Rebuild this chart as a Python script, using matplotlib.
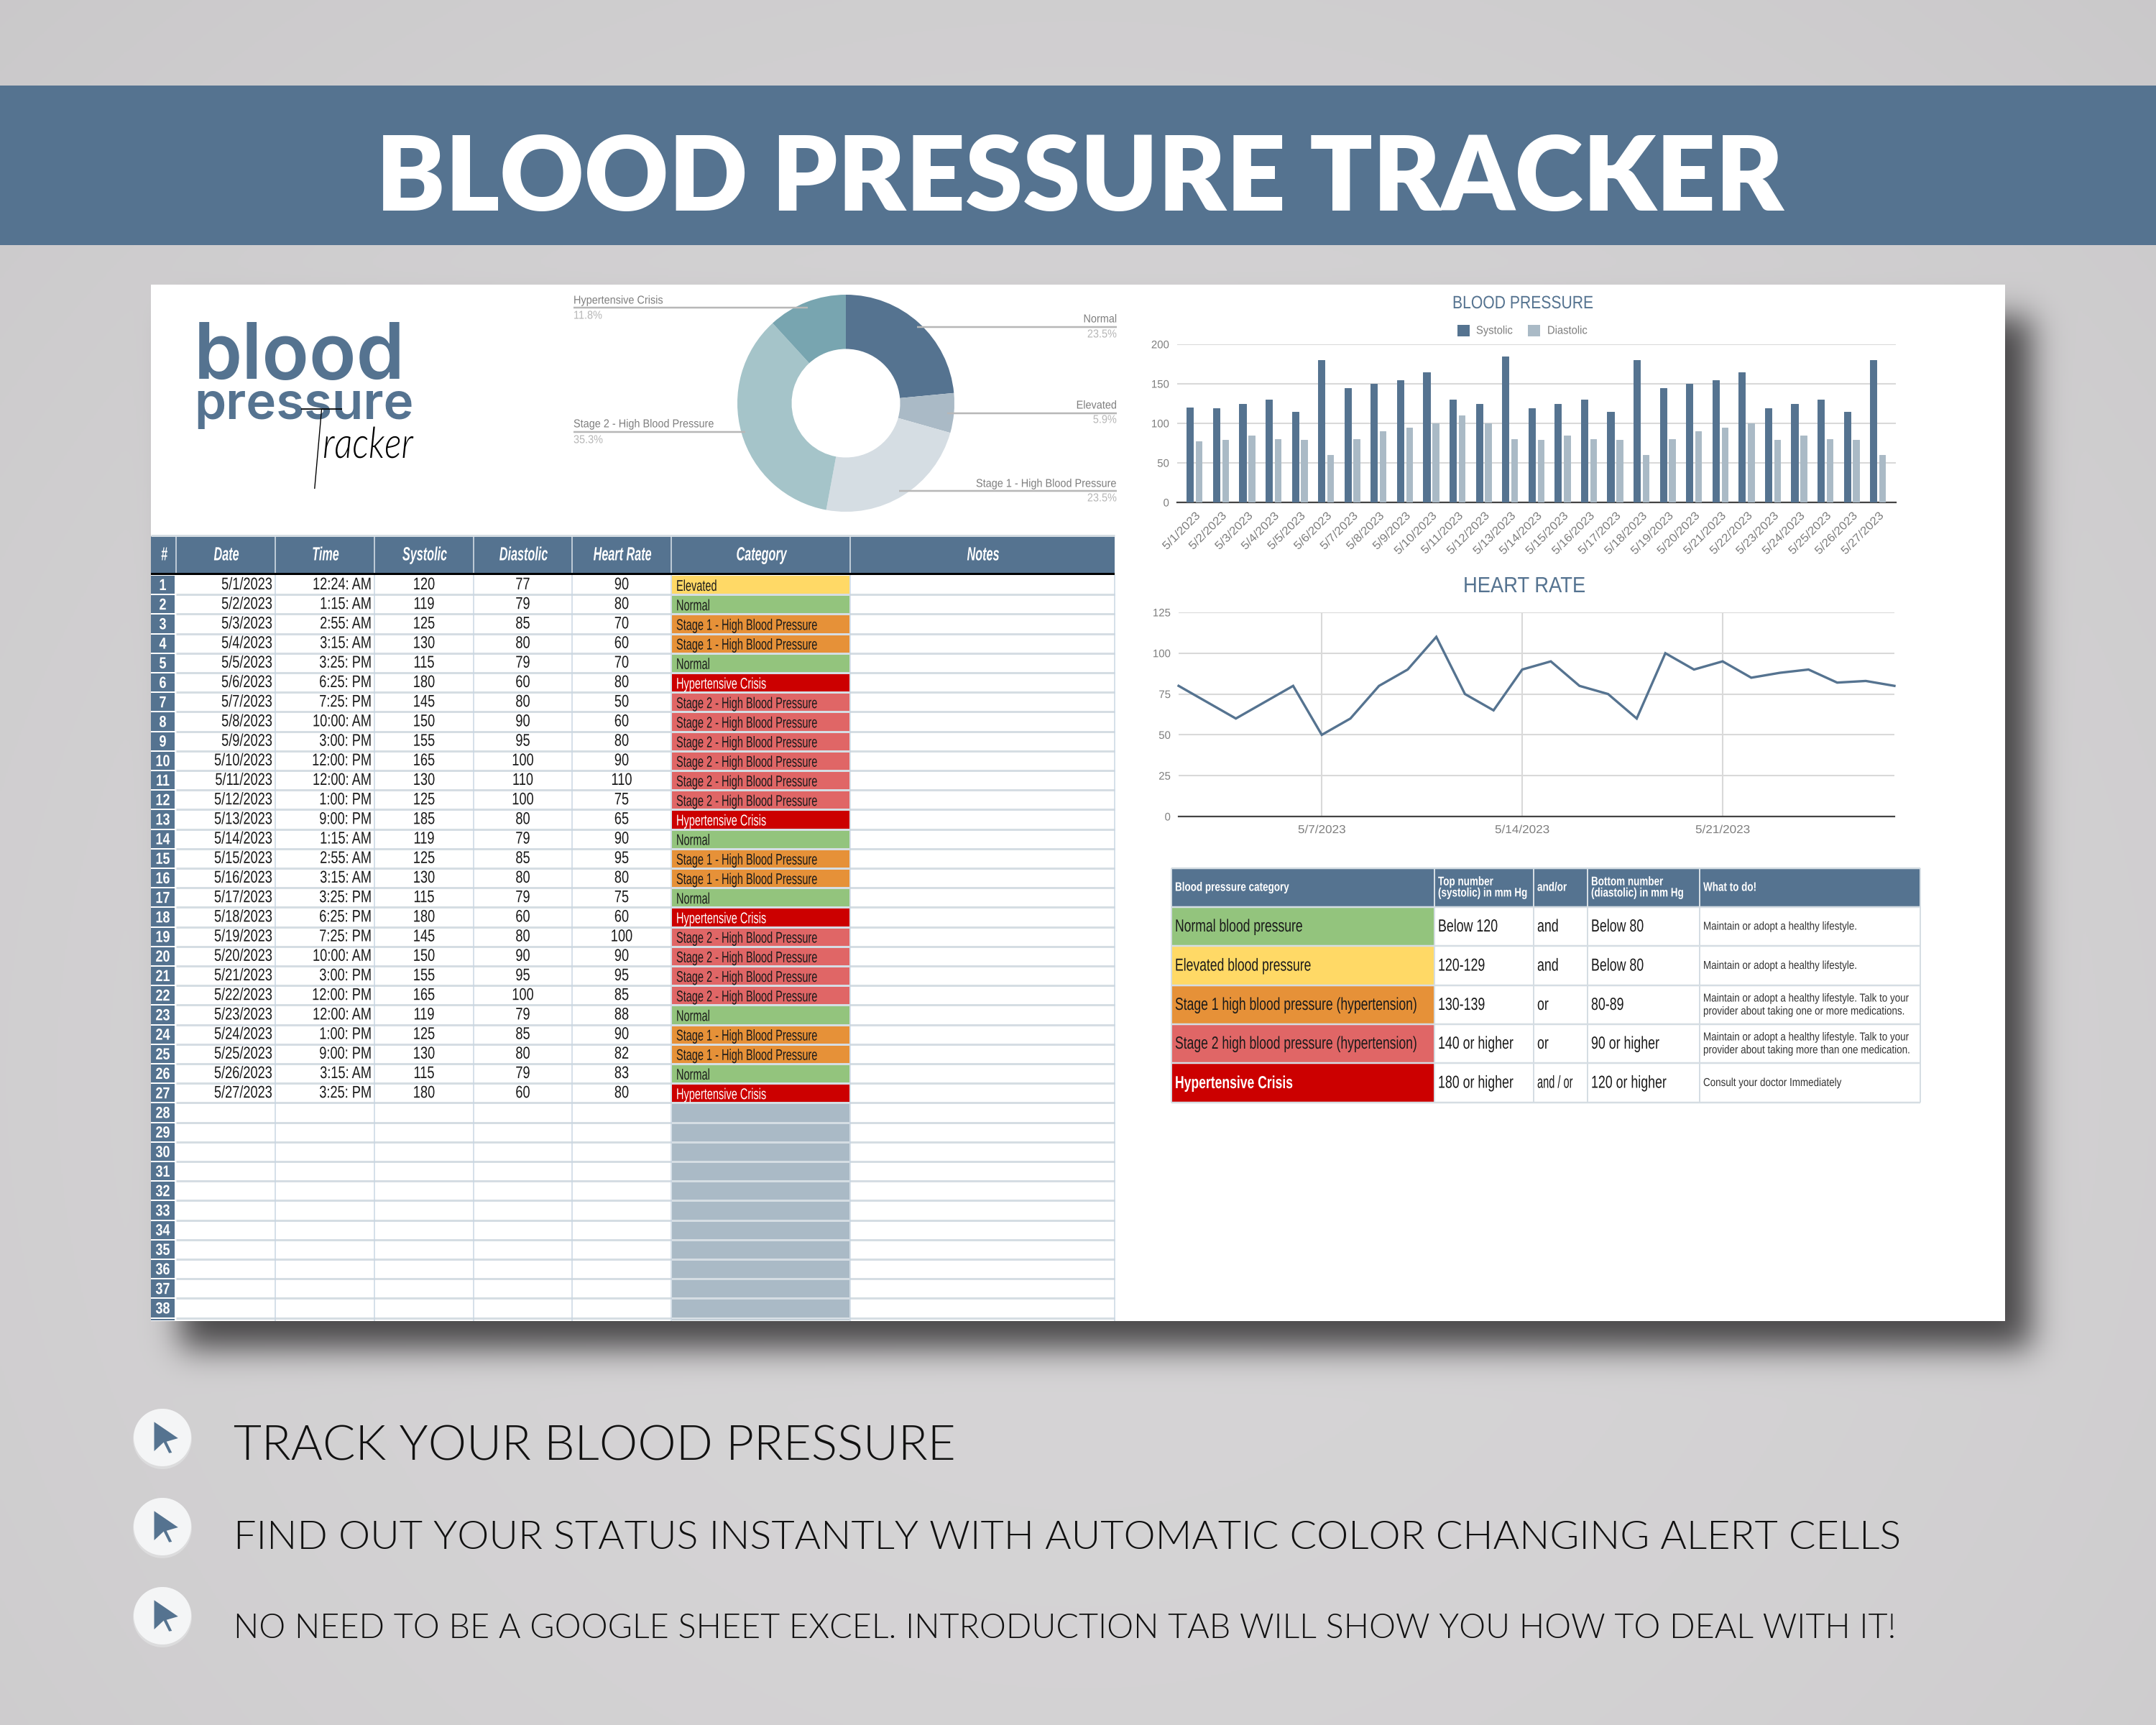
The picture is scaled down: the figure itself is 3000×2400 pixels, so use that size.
import numpy as np
from math import erf
import matplotlib
matplotlib.use("Agg")
import matplotlib.pyplot as plt
from matplotlib.patches import Rectangle, Ellipse, Polygon
from matplotlib.patheffects import AbstractPathEffect
from matplotlib.transforms import Affine2D, Bbox

W, H = 3000, 2400
SANS = 'Liberation Sans'
BLUE = '#557390'

# ------------------------------------------------------------------ data
row_dates = ['5/1/2023','5/2/2023','5/3/2023','5/4/2023','5/5/2023','5/6/2023','5/7/2023','5/8/2023','5/9/2023',
             '5/10/2023','5/11/2023','5/12/2023','5/13/2023','5/14/2023','5/15/2023','5/16/2023','5/17/2023',
             '5/18/2023','5/19/2023','5/20/2023','5/21/2023','5/22/2023','5/23/2023','5/24/2023','5/25/2023',
             '5/26/2023','5/27/2023']
row_times = ['12:24: AM','1:15: AM','2:55: AM','3:15: AM','3:25: PM','6:25: PM','7:25: PM','10:00: AM','3:00: PM',
             '12:00: PM','12:00: AM','1:00: PM','9:00: PM','1:15: AM','2:55: AM','3:15: AM','3:25: PM','6:25: PM',
             '7:25: PM','10:00: AM','3:00: PM','12:00: PM','12:00: AM','1:00: PM','9:00: PM','3:15: AM','3:25: PM']
systolic = [120,119,125,130,115,180,145,150,155,165,130,125,185,119,125,130,115,180,145,150,155,165,119,125,130,115,180]
diastolic = [77,79,85,80,79,60,80,90,95,100,110,100,80,79,85,80,79,60,80,90,95,100,79,85,80,79,60]
heart_rate = [90,80,70,60,70,80,50,60,80,90,110,75,65,90,95,80,75,60,100,90,95,85,88,90,82,83,80]
E, N, S1, S2, HC = 'Elevated', 'Normal', 'Stage 1 - High Blood Pressure', 'Stage 2 - High Blood Pressure', 'Hypertensive Crisis'
row_cats = [E,N,S1,S1,N,HC,S2,S2,S2,S2,S2,S2,HC,N,S1,S1,N,HC,S2,S2,S2,S2,N,S1,S1,N,HC]
cat_colors = {E:'#ffd966', N:'#93c47d', S1:'#e69138', S2:'#e06666', HC:'#cc0000'}
headers = ['#','Date','Time','Systolic','Diastolic','Heart Rate','Category','Notes']

pie_labels = ['Normal','Elevated','Stage 1 - High Blood Pressure','Stage 2 - High Blood Pressure','Hypertensive Crisis']
pie_values = [23.5, 5.9, 23.5, 35.3, 11.8]
pie_colors = ['#557390','#aabac6','#d5dde3','#a5c4c9','#78a5b0']

ref_head = ['Blood pressure category','Top number\n(systolic) in mm Hg','and/or','Bottom number\n(diastolic) in mm Hg','What to do!']
ref_cat = ['Normal blood pressure','Elevated blood pressure','Stage 1 high blood pressure (hypertension)',
           'Stage 2 high blood pressure (hypertension)','Hypertensive Crisis']
ref_col = ['#93c47d','#ffd966','#e69138','#e06666','#cc0000']
ref_top = ['Below 120','120-129','130-139','140 or higher','180 or higher']
ref_and = ['and','and','or','or','and / or']
ref_bot = ['Below 80','Below 80','80-89','90 or higher','120 or higher']
ref_do = ['Maintain or adopt a healthy lifestyle.','Maintain or adopt a healthy lifestyle.',
          'Maintain or adopt a healthy lifestyle. Talk to your\nprovider about taking one or more medications.',
          'Maintain or adopt a healthy lifestyle. Talk to your\nprovider about taking more than one medication.',
          'Consult your doctor Immediately']
bullets = ['TRACK YOUR BLOOD PRESSURE',
           'FIND OUT YOUR STATUS INSTANTLY WITH AUTOMATIC COLOR CHANGING ALERT CELLS',
           'NO NEED TO BE A GOOGLE SHEET EXCEL. INTRODUCTION TAB WILL SHOW YOU HOW TO DEAL WITH IT!']

# ------------------------------------------------------------------ helpers
fig = plt.figure(figsize=(30, 24), dpi=100)
bg = fig.add_axes([0, 0, 1, 1], zorder=0)
fg = fig.add_axes([0, 0, 1, 1], zorder=5)
for a in (bg, fg):
    a.set_xlim(0, W); a.set_ylim(H, 0); a.axis('off')
fg.patch.set_alpha(0)
rend = fig.canvas.get_renderer()


class Squeeze(AbstractPathEffect):
    """Narrows a real text along its own direction, about its anchor."""
    def __init__(self, text, s):
        super().__init__()
        self.text, self.s = text, s

    def draw_path(self, renderer, gc, tpath, affine, rgbFace=None):
        t = self.text
        x, y = t.get_transform().transform(t.get_unitless_position())
        a = t.get_rotation()
        extra = (Affine2D().translate(-x, -y).rotate_deg(-a).scale(self.s, 1).rotate_deg(a).translate(x, y))
        renderer.draw_path(gc, tpath, affine + extra, rgbFace)


def condense(t, s):
    t.set_path_effects([Squeeze(t, s)])
    if t.get_rotation() == 0:
        orig = t.get_window_extent
        def ext(renderer=None, dpi=None):
            bb = orig(renderer, dpi)
            x = t.get_transform().transform(t.get_unitless_position())[0]
            return Bbox([[x + (bb.x0-x)*s, bb.y0], [x + (bb.x1-x)*s, bb.y1]])
        t.get_window_extent = ext
    return t


def measure(sample, fs, **kw):
    t = bg.text(0, 0, sample, fontsize=fs, **kw)
    w = t.get_window_extent(rend).width
    t.remove()
    return w


def fit(sample, width, **kw):
    return 20 * width / measure(sample, 20, **kw)


def sized(sample, width, cap, **kw):
    """font size giving the cap height in px, and the squeeze giving the width"""
    kw.setdefault('family', SANS)
    fs = float(cap)
    return fs, width / measure(sample, fs, **kw)


def put(a, x, y, s, size, **kw):
    kw.setdefault('family', SANS)
    kw.setdefault('va', 'baseline')
    t = a.text(x, y, s, fontsize=size[0], **kw)
    return condense(t, size[1])


def pxaxes(x0, y0, x1, y1, **kw):
    return fig.add_axes([x0/W, 1-y1/H, (x1-x0)/W, (y1-y0)/H], **kw)


def rect(a, x0, y0, x1, y1, c, z=1):
    a.add_patch(Rectangle((x0, y0), x1-x0, y1-y0, fc=c, ec='none', zorder=z))


def hl(a, x0, x1, y, c, px=1.0, z=2):
    a.plot([x0, x1], [y, y], color=c, lw=px*0.72, solid_capstyle='butt', zorder=z)


def vl(a, x, y0, y1, c, px=1.0, z=2):
    a.plot([x, x], [y0, y1], color=c, lw=px*0.72, solid_capstyle='butt', zorder=z)


# ------------------------------------------------------------------ page background + shadow
yy, xx = np.mgrid[0:H//2, 0:W//2]
r = np.hypot((xx*2-1500)/1800, (yy*2-1500)/1700)
base = 214 - 8*r**2
e = np.vectorize(erf)
def profile(n, a, b, sig):
    g = np.arange(n)*2
    return 0.5*(e((g-a)/(sig*2**.5)) - e((g-b)/(sig*2**.5)))
px = profile(W//2, 250, 2825, 22)
py = profile(H//2, 440, 1875, 22)
alpha = 0.85*np.outer(py, px)
img = base*(1-alpha) + 50*alpha
rgb = np.dstack([img, img-1.5, img]).clip(0, 255).astype(np.uint8)
bg.imshow(rgb, extent=(0, W, H, 0), aspect='auto', zorder=0, interpolation='bilinear')
bg.set_xlim(0, W); bg.set_ylim(H, 0)

# banner
rect(bg, 0, 119, W, 341, BLUE)
fs = fit('BLOOD PRESSURE TRACKER', 1960, family='Lato', weight=800)
bg.text(1502, 293, 'BLOOD PRESSURE TRACKER', color='white', family='Lato', weight=800, fontsize=fs, ha='center', va='baseline', zorder=3)

# sheet
rect(bg, 210, 396, 2790, 1838, 'white')

# logo
fs = fit('blood', 296, family='Inter', weight=600)
bg.text(270, 527, 'blood', color=BLUE, family='Inter', weight=600, fontsize=fs, va='baseline', zorder=3)
fs = fit('pressure', 306, family='Inter', weight=600)
bg.text(270, 583, 'pressure', color=BLUE, family='Inter', weight=600, fontsize=fs, va='baseline', zorder=3)
put(bg, 412, 680, 'T', (115, 0.72), color='black', family='Lato', weight=250, style='italic', zorder=4)
put(bg, 449, 637, 'racker', sized('racker', 126, 43, family='Lato', weight=300, style='italic'),
    color='black', family='Lato', weight=300, style='italic', zorder=4)

# ------------------------------------------------------------------ data table
cols = [210, 245, 383, 521, 659, 796, 934, 1183, 1551]
top, hdr_bot, first, rh = 746, 797, 800, 27.2
rect(bg, cols[0], top, cols[-1], hdr_bot, BLUE)
rect(bg, cols[0], hdr_bot, cols[-1], first, 'black', 2)
hl(bg, cols[0], cols[-1], top-1, '#d5dde3', 3)
fh = sized('Systolic', 62, 19, weight='bold', style='italic')
for i, h in enumerate(headers):
    put(bg, (cols[i]+cols[i+1])/2+1, 779.5, h, fh, color='white', weight='bold', style='italic', ha='center', zorder=3)
    if i:
        vl(bg, cols[i], top, hdr_bot, '#dfe6ec', 1.5, 3)

fbody = sized('5/10/2023', 81, 17)
fcat = sized(S1, 196, 15.5)
fnum = sized('38', 20, 16, weight='bold')
for i in range(39):
    y0 = first + rh*i
    y1 = min(first + rh*(i+1), 1838)
    rect(bg, cols[0], y0+1, cols[1]-2, y1-1, BLUE, 2)
    c = cat_colors[row_cats[i]] if i < len(row_cats) else '#aabac6'
    rect(bg, cols[6]+1, y0+1, cols[7]-1, y1-1, c, 2)
    if y1 < 1838:
        hl(bg, cols[1], cols[-1], y1, '#d5dde3', 3, 3)
    if i < 38:
        put(bg, (cols[0]+cols[1])/2-1, y0+21, str(i+1), fnum, color='white', weight='bold', ha='center', zorder=4)
    if i < len(row_cats):
        kw = dict(color='#1a1a1a', zorder=4)
        put(bg, 379, y0+20, row_dates[i], fbody, ha='right', **kw)
        put(bg, 517, y0+20, row_times[i], fbody, ha='right', **kw)
        put(bg, (cols[3]+cols[4])/2, y0+20, str(systolic[i]), fbody, ha='center', **kw)
        put(bg, (cols[4]+cols[5])/2, y0+20, str(diastolic[i]), fbody, ha='center', **kw)
        put(bg, (cols[5]+cols[6])/2, y0+20, str(heart_rate[i]), fbody, ha='center', **kw)
        put(bg, 941, y0+22, row_cats[i], fcat, color='white' if row_cats[i] == HC else '#1a1a1a', zorder=4)
for x in cols[2:]:
    vl(bg, x, first, 1838, '#c9d6e2', 1.5, 3)

# ------------------------------------------------------------------ donut
ax = pxaxes(1026, 410, 1328, 712, zorder=2)
ax.pie(pie_values, colors=pie_colors, startangle=90, counterclock=False, radius=1,
       wedgeprops=dict(width=0.5, linewidth=0))
ax.set_xlim(-1, 1); ax.set_ylim(-1, 1); ax.set_aspect('auto')

fp = sized('Hypertensive Crisis', 125, 11.5)
def pie_lab(idx, side, ytxt, yline, x_in, ypct):
    xe = 798 if side == 'l' else 1554
    ha = 'left' if side == 'l' else 'right'
    put(fg, xe, ytxt, pie_labels[idx], fp, color='#7f7f7f', ha=ha, va='center')
    put(fg, xe, ypct, f'{pie_values[idx]}%', fp, color='#b7b7b7', ha=ha, va='center')
    hl(fg, xe, x_in, yline, '#b7b7b7', 2.5)
pie_lab(4, 'l', 418, 428, 1124, 439)
pie_lab(0, 'r', 444, 455, 1276, 465)
pie_lab(1, 'r', 564, 575, 1318, 584)
pie_lab(3, 'l', 590, 601, 1037, 612)
pie_lab(2, 'r', 673, 683, 1251, 693)

# ------------------------------------------------------------------ bar chart
ftick = sized('5/10/2023', 76, 11.5)
fy = sized('200', 25, 11)
x0b, x1b, ytb, y0b = 1638, 2638, 479, 699
ax = pxaxes(x0b, ytb, x1b, y0b, zorder=2)
ax.patch.set_alpha(0)
step = 36.58
xi = np.arange(len(row_dates))
b1 = ax.bar(xi-0.17, systolic, 0.25, color=BLUE, edgecolor=BLUE, linewidth=0.7, joinstyle='round', label='Systolic', zorder=3)
b2 = ax.bar(xi+0.17, diastolic, 0.23, color='#aabac6', edgecolor='#aabac6', linewidth=0.7, joinstyle='round', label='Diastolic', zorder=3)
ax.set_xlim(-(1662-x0b)/step, 26+(x1b-2613)/step)
ax.set_ylim(0, 200)
ax.set_yticks([0, 50, 100, 150, 200])
ax.set_xticks(xi)
ax.set_xticklabels(row_dates, rotation=45, ha='right', rotation_mode='anchor', family=SANS, fontsize=ftick[0], color='#7f7f7f')
ax.tick_params(axis='x', length=0, pad=8)
ax.tick_params(axis='y', length=0, pad=8, labelcolor='#7f7f7f', labelsize=fy[0])
for l in ax.get_xticklabels():
    condense(l, ftick[1])
for l in ax.get_yticklabels():
    l.set_family(SANS); condense(l, fy[1])
ax.grid(axis='y', color='#d9d9d9', lw=1.5, zorder=0)
for s in ('top', 'left', 'right'):
    ax.spines[s].set_visible(False)
ax.spines['bottom'].set_color('#444444'); ax.spines['bottom'].set_linewidth(1.6)
ft = sized('BLOOD PRESSURE', 196, 18)
tt = ax.set_title('BLOOD PRESSURE', x=(2119-x0b)/(x1b-x0b), y=(y0b-422)/(y0b-ytb), va='center', pad=0, family=SANS, fontsize=ft[0], color=BLUE)
condense(tt, ft[1])
# legend
legend_labels = ['Systolic', 'Diastolic']
fl = sized('Diastolic', 56, 11.5)
for lab, col, xs, xt in zip(legend_labels, [BLUE, '#aabac6'], [2028, 2126], [2054, 2153]):
    rect(fg, xs, 452, xs+17, 468, col)
    put(fg, xt, 460, lab, fl, color='#7f7f7f', va='center')

# ------------------------------------------------------------------ line chart
hr_days = list(range(2, 28))
hr_ticks = [7, 14, 21]
hr_labels = ['5/7/2023', '5/14/2023', '5/21/2023']
ax = pxaxes(1640, 852, 2636, 1136, zorder=2)
ax.patch.set_alpha(0)
ax.plot(hr_days, heart_rate[1:], color=BLUE, lw=2.4, solid_joinstyle='miter', zorder=3, clip_on=False)
ax.set_xlim(2, 27); ax.set_ylim(0, 125)
ax.set_yticks([0, 25, 50, 75, 100, 125])
ax.set_xticks(hr_ticks); ax.set_xticklabels(hr_labels, family=SANS, fontsize=ftick[0], color='#7f7f7f')
ax.tick_params(axis='x', length=0, pad=8)
ax.tick_params(axis='y', length=0, pad=8, labelcolor='#7f7f7f', labelsize=fy[0])
for l in ax.get_xticklabels():
    condense(l, ftick[1])
for l in ax.get_yticklabels():
    l.set_family(SANS); condense(l, fy[1])
ax.grid(axis='both', color='#d9d9d9', lw=1.5, zorder=0)
for s in ('top', 'left', 'right'):
    ax.spines[s].set_visible(False)
ax.spines['bottom'].set_color('#444444'); ax.spines['bottom'].set_linewidth(1.6)
ft = sized('HEART RATE', 170, 22)
tt = ax.set_title('HEART RATE', x=(2121-1640)/996, y=(1136-816)/284, va='center', pad=0, family=SANS, fontsize=ft[0], color=BLUE)
condense(tt, ft[1])

# ------------------------------------------------------------------ reference table
rc = [1630, 1996, 2134, 2209, 2365, 2672]
rr = [1208, 1262, 1316, 1371, 1425, 1479, 1534]
rect(bg, rc[0], rr[0], rc[-1], rr[1]-1, BLUE, 2)
fr_h = sized(ref_head[0], 159, 12.5, weight='bold')
for j, h in enumerate(ref_head):
    put(bg, rc[j]+5, (rr[0]+rr[1])/2, h, fr_h, color='white', weight='bold', va='center', linespacing=1.05, zorder=4)
fr_c = sized(ref_cat[0], 177, 17.5)
fr_v = sized('Below 120', 83, 17.5)
fr_d = sized(ref_do[0], 215, 11.5)
for i in range(5):
    y0, y1 = rr[i+1], rr[i+2]
    ym = (y0+y1)/2 + 1
    rect(bg, rc[0], y0+1, rc[1]-1, y1-1, ref_col[i], 2)
    hc = ref_cat[i] == HC
    put(bg, rc[0]+5, ym, ref_cat[i], fr_c, color='white' if hc else '#1a1a1a', weight='bold' if hc else 'normal', va='center', zorder=4)
    for j, v in ((1, ref_top[i]), (2, ref_and[i]), (3, ref_bot[i])):
        size = (fr_v[0], fr_v[1]*(0.82 if v == 'and / or' else 1))
        put(bg, rc[j]+5, ym, v, size, color='#1a1a1a', va='center', zorder=4)
    put(bg, rc[4]+5, ym-1, ref_do[i], fr_d, color='#333333', va='center', linespacing=1.25, zorder=4)
for y in rr:
    hl(bg, rc[0], rc[-1], y, '#d5dde3', 2.5, 3)
for x in rc:
    vl(bg, x, rr[0], rr[-1], '#d5dde3', 2, 3)

# ------------------------------------------------------------------ bullets
arrow = np.array([(-11.5,-21.7),(21.8,1),(5.7,5.7),(13.2,21),(9.2,21.7),(1.7,6.7),(-11.5,19)])
by = [2000, 2124, 2248]
bw = [1003, 2315, 2311]
bb = [2031, 2155, 2279]
for yc, txt, w, base_y in zip(by, bullets, bw, bb):
    bg.add_patch(Ellipse((226, yc+2), 82, 84, fc='#dcdcdd', ec='none', zorder=2))
    bg.add_patch(Ellipse((226, yc), 80, 80, fc='#f4f5f6', ec='none', zorder=3))
    bg.add_patch(Polygon(arrow+np.array([226, yc]), closed=True, fc=BLUE, ec='none', zorder=4))
    fs = fit(txt, w, family='Lato', weight=300)
    bg.text(325, base_y, txt, color='#111111', family='Lato', weight=300, fontsize=fs, va='baseline', zorder=4)

fig.savefig('out.png', dpi=100)
